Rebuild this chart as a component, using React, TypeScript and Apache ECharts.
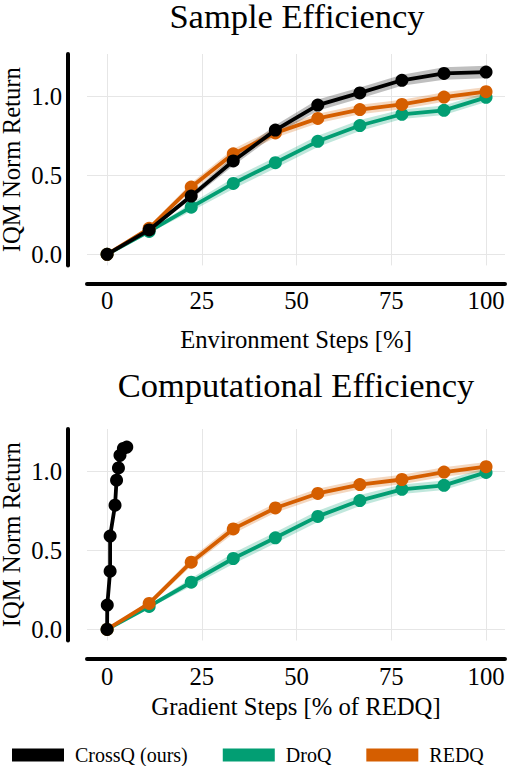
import React, { useEffect, useRef } from "react";
import * as echarts from "echarts";

// ---- data ----
const ENV_STEPS = [0, 11.1, 22.2, 33.3, 44.4, 55.6, 66.7, 77.8, 88.9, 100];
const GRAD_STEPS_REDQ_DROQ = [0, 11.1, 22.2, 33.3, 44.4, 55.6, 66.7, 77.8, 88.9, 100];
const GRAD_STEPS_CROSSQ = [0, 0.05, 0.8, 0.8, 2.1, 2.5, 3.0, 3.4, 4.3, 5.2];

const CROSSQ = [0, 0.154, 0.368, 0.59, 0.785, 0.943, 1.02, 1.1, 1.143, 1.152];
const REDQ = [0, 0.164, 0.425, 0.635, 0.767, 0.859, 0.915, 0.947, 0.994, 1.028];
const DROQ = [0, 0.145, 0.298, 0.448, 0.579, 0.714, 0.814, 0.885, 0.91, 0.992];

const CROSSQ_ERR = [0, 0.01, 0.02, 0.03, 0.03, 0.035, 0.035, 0.035, 0.04, 0.04];
const REDQ_ERR = [0, 0.015, 0.025, 0.03, 0.03, 0.03, 0.03, 0.03, 0.03, 0.03];
const DROQ_ERR = [0, 0.01, 0.025, 0.035, 0.035, 0.035, 0.035, 0.03, 0.03, 0.03];

const X_TICKS = [0, 25, 50, 75, 100];
const Y_TICKS = [0, 0.5, 1.0];

const TITLES = ["Sample Efficiency", "Computational Efficiency"];
const X_NAMES = ["Environment Steps [%]", "Gradient Steps [% of REDQ]"];
const Y_NAME = "IQM Norm Return";
const NAMES = ["CrossQ (ours)", "DroQ", "REDQ"];
const COLORS = ["#000000", "#029e73", "#d55e00"];
const BAND_COLORS = ["rgba(0,0,0,0.25)", "rgba(2,158,115,0.25)", "rgba(213,94,0,0.25)"];

const FONT = '"Liberation Serif", "DejaVu Serif", serif';

export default function App() {
  const ref = useRef<HTMLDivElement>(null);

  useEffect(() => {
    if (!ref.current) return;
    const chart = echarts.init(ref.current, undefined, { renderer: "svg" });

    const grids = [
      { left: 87, right: 3, top: 54, height: 211.4, outerBoundsMode: "none", containLabel: false },
      { left: 87, right: 3, top: 429, height: 211.5, outerBoundsMode: "none", containLabel: false },
    ];
    const xNameGaps = [44, 35];

    const makeX = (gi: number) => ({
      type: "value",
      gridIndex: gi,
      min: -5.3,
      max: 105,
      offset: 18,
      name: X_NAMES[gi],
      nameLocation: "middle",
      nameGap: xNameGaps[gi],
      nameTextStyle: { fontFamily: FONT, fontSize: 24.7, color: "#000" },
      axisLine: { show: true, onZero: false, lineStyle: { color: "#000", width: 4 } },
      axisTick: { show: false, customValues: X_TICKS },
      axisLabel: {
        show: true,
        customValues: X_TICKS,
        margin: 5,
        fontFamily: FONT,
        fontSize: 24.7,
        color: "#000",
        formatter: (v: number) => String(Math.round(v)),
      },
      splitLine: { show: true, lineStyle: { color: "#e6e6e6", width: 1 } },
    });

    const makeY = (gi: number) => ({
      type: "value",
      gridIndex: gi,
      min: -0.07,
      max: 1.266,
      offset: 19,
      name: Y_NAME,
      nameLocation: "middle",
      nameGap: 47,
      nameMoveOverlap: false,
      nameTextStyle: { fontFamily: FONT, fontSize: 24.7, lineHeight: 20, color: "#000" },
      axisLine: { show: true, onZero: false, lineStyle: { color: "#000", width: 4 } },
      axisTick: { show: false, customValues: Y_TICKS },
      axisLabel: {
        show: true,
        customValues: Y_TICKS,
        margin: 6,
        fontFamily: FONT,
        fontSize: 24.7,
        color: "#000",
        formatter: (v: number) => Number(v).toFixed(1),
      },
      splitLine: { show: true, lineStyle: { color: "#e6e6e6", width: 1 } },
    });

    const series: any[] = [];
    const addBand = (gi: number, xs: number[], mean: number[], err: number[], color: string) => {
      const rows = xs.map((x, i) => [x, mean[i] - err[i], mean[i] + err[i]]);
      series.push({
        type: "custom",
        xAxisIndex: gi,
        yAxisIndex: gi,
        silent: true,
        z: 1,
        encode: { x: 0, y: [1, 2] },
        data: rows,
        renderItem: (params: any, api: any) => {
          if (params.dataIndex !== 0) return null;
          const upper = rows.map((r) => api.coord([r[0], r[2]]));
          const lower = rows.map((r) => api.coord([r[0], r[1]])).reverse();
          return {
            type: "polygon",
            shape: { points: upper.concat(lower) },
            style: { fill: color, stroke: "none" },
          };
        },
      });
    };
    const addLine = (gi: number, name: string, xs: number[], ys: number[], color: string, z: number) => {
      series.push({
        type: "line",
        name,
        xAxisIndex: gi,
        yAxisIndex: gi,
        symbol: "circle",
        symbolSize: 13,
        lineStyle: { color, width: 3.8 },
        itemStyle: { color },
        data: xs.map((x, i) => [x, ys[i]]),
        z,
      });
    };

    // top chart
    addBand(0, ENV_STEPS, DROQ, DROQ_ERR, BAND_COLORS[1]);
    addBand(0, ENV_STEPS, REDQ, REDQ_ERR, BAND_COLORS[2]);
    addBand(0, ENV_STEPS, CROSSQ, CROSSQ_ERR, BAND_COLORS[0]);
    addLine(0, NAMES[1], ENV_STEPS, DROQ, COLORS[1], 3);
    addLine(0, NAMES[2], ENV_STEPS, REDQ, COLORS[2], 4);
    addLine(0, NAMES[0], ENV_STEPS, CROSSQ, COLORS[0], 5);
    // bottom chart
    addBand(1, GRAD_STEPS_REDQ_DROQ, DROQ, DROQ_ERR, BAND_COLORS[1]);
    addBand(1, GRAD_STEPS_REDQ_DROQ, REDQ, REDQ_ERR, BAND_COLORS[2]);
    addBand(1, GRAD_STEPS_CROSSQ, CROSSQ, CROSSQ_ERR, BAND_COLORS[0]);
    addLine(1, NAMES[1], GRAD_STEPS_REDQ_DROQ, DROQ, COLORS[1], 3);
    addLine(1, NAMES[2], GRAD_STEPS_REDQ_DROQ, REDQ, COLORS[2], 4);
    addLine(1, NAMES[0], GRAD_STEPS_CROSSQ, CROSSQ, COLORS[0], 5);

    chart.setOption({
      animation: false,
      backgroundColor: "#ffffff",
      grid: grids,
      xAxis: [makeX(0), makeX(1)],
      yAxis: [makeY(0), makeY(1)],
      legend: {
        data: NAMES,
        left: 12,
        top: 745,
        icon: "rect",
        itemWidth: 52,
        itemHeight: 13,
        itemGap: 35,
        padding: 0,
        itemStyle: { borderWidth: 0 },
        selectedMode: false,
        textStyle: { fontFamily: FONT, fontSize: 20, color: "#000", padding: [0, 0, 0, 6] },
      },
      graphic: TITLES.map((t, i) => ({
        type: "text",
        x: i === 0 ? 297 : 296,
        y: i === 0 ? 16 : 385,
        style: {
          text: t,
          font: `34.5px ${FONT}`,
          lineHeight: 24,
          fill: "#000",
          align: "center",
          verticalAlign: "middle",
        },
      })),
      series,
    });

    return () => chart.dispose();
  }, []);

  return (
    <div
      ref={ref}
      style={{ position: "fixed", left: 0, top: 0, width: 508, height: 766, background: "#fff" }}
    />
  );
}
